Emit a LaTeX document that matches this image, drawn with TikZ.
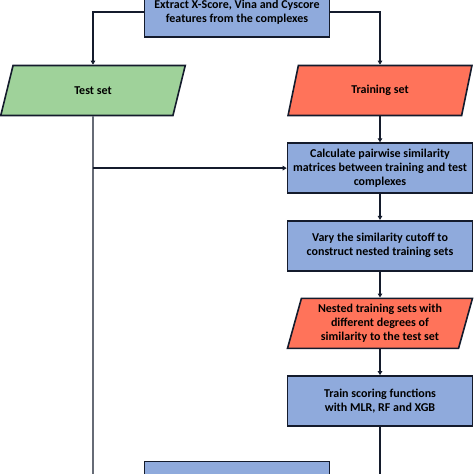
\documentclass[tikz,border=0pt]{standalone}
\usepackage{fontspec}
\setmainfont{Carlito}
\usepackage{xcolor}
\definecolor{cBox}{HTML}{8FAADC}
\definecolor{cTest}{HTML}{9FD29A}
\definecolor{cTrain}{HTML}{FF735A}
\definecolor{cLine}{HTML}{141B2C}
\usepackage{tikz}
\usetikzlibrary{positioning,arrows.meta,shapes.geometric}
\tikzset{
  node-box/.style={draw=cLine,line width=1.6pt,fill=cBox,rectangle,
    minimum width=185pt,minimum height=50pt,inner sep=2pt,align=center,
    font=\bfseries\fontsize{12}{14}\selectfont},
  node-data/.style={node-box,trapezium,trapezium left angle=75,
    trapezium right angle=105,trapezium stretches=true},
  node-test/.style={fill=cTest},
  node-train/.style={fill=cTrain},
  arrow/.style={-{Triangle[length=4pt,width=4.5pt]},line width=1.4pt,draw=cLine},
  link/.style={line width=1.4pt,draw=cLine},
}

\begin{document}
\begin{tikzpicture}[x=1pt,y=-1pt,node distance=26pt and 8mm]
  \useasboundingbox (0,0) rectangle (474,474);
  \node[node-box] (extract) at (237,12) {Extract X-Score, Vina and Cyscore\\features from the complexes};
  \node[node-data,node-test]  (test)  at (93,90.5)  {Test set};
  \node[node-data,node-train] (train) at (380,90.5) {Training set};
  \node[node-box,below=of train]             (calc)   {Calculate pairwise similarity\\matrices between training and test\\complexes};
  \node[node-box,below=of calc]              (vary)   {Vary the similarity cutoff to\\construct nested training sets};
  \node[node-data,node-train,below=of vary]  (nested) {Nested training sets with\\different degrees of\\similarity to the test set};
  \node[node-box,below=of nested]            (fit)    {Train scoring functions\\with MLR, RF and XGB};
  \node[node-box] (eval) at (237,486.5) {};
  \coordinate (test-end) at (93,490);
  \coordinate (fit-end)  at (fit.south |- test-end);
  \draw[arrow] (extract.west) -| (test.north);
  \draw[arrow] (extract.east) -| (train.north);
  \draw[arrow] (train.south) -- (calc.north);
  \draw[link]  (test.south) -- (test-end);
  \draw[arrow] (calc.west -| test.south) -- (calc.west);
  \draw[arrow] (calc.south) -- (vary.north);
  \draw[arrow] (vary.south) -- (nested.north);
  \draw[arrow] (nested.south) -- (fit.north);
  \draw[link]  (fit.south) -- (fit-end);
\end{tikzpicture}
\end{document}
